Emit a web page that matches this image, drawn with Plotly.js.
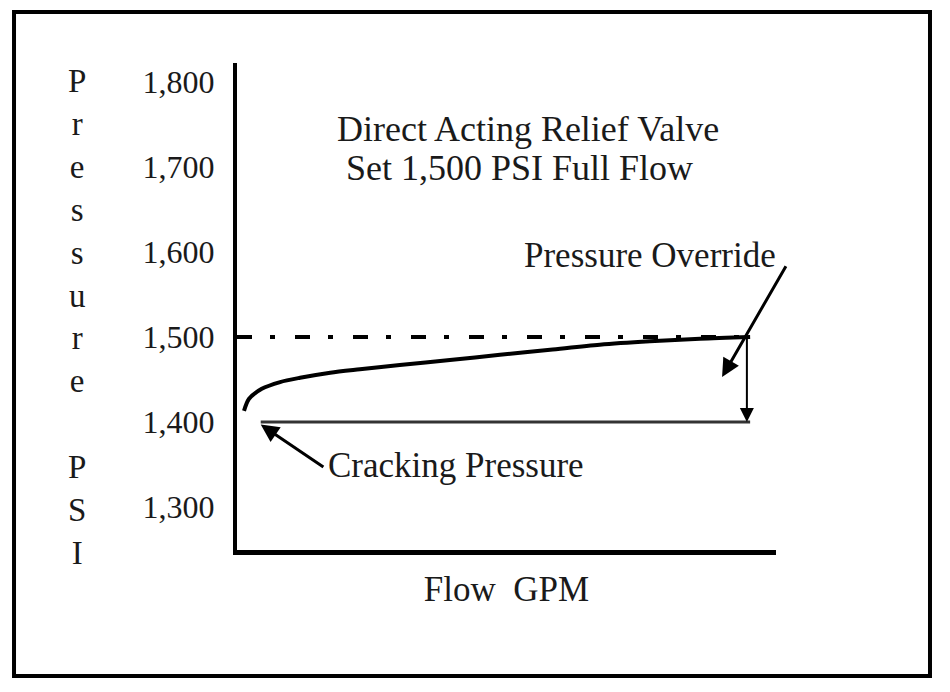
<!DOCTYPE html>
<html>
<head>
<meta charset="utf-8">
<script src="https://cdn.plot.ly/plotly-3.0.1.min.js"></script>
<style>
  body { margin: 0; background: #fff; }
  #plot { width: 950px; height: 692px; }
</style>
</head>
<body>
<div id="plot"></div>
<script>
// pressure tick values (psi)
const pressureTicks = [1300, 1400, 1500, 1600, 1700, 1800];
const pressureTickText = ["1,300", "1,400", "1,500", "1,600", "1,700", "1,800"];

// flow is unitless on the original sketch, 0..100 across the axis
const curveFlow = [1.3, 2.2, 4.6, 8.0, 11.7, 17.3, 22.8, 30.2, 39.5, 48.8, 58.1, 67.3, 76.6, 85.9, 95.2];
const curvePsi = [1413, 1427, 1439, 1447, 1452, 1458, 1462, 1467, 1473, 1479, 1485, 1491, 1495, 1498, 1500];

const setPsi = 1500;
const crackPsi = 1400;
const fullFlow = 95.2;
const crackFlow = 4.4;

const txtFont = { family: "Liberation Serif, Times New Roman, serif", size: 35, color: "#1a1a1a" };

var setLine = {
  x: [0, fullFlow],
  y: [setPsi, setPsi],
  mode: "lines",
  line: { color: "black", width: 4, dash: "15px,18px,5px,20px" },
  hoverinfo: "skip",
};

var curve = {
  x: curveFlow,
  y: curvePsi,
  mode: "lines",
  line: { color: "black", width: 4, shape: "spline", smoothing: 0.8 },
  hoverinfo: "skip",
};

var crackLine = {
  x: [crackFlow, fullFlow],
  y: [crackPsi, crackPsi],
  mode: "lines",
  line: { color: "#333", width: 3 },
  hoverinfo: "skip",
};

var layout = {
  width: 950,
  height: 692,
  showlegend: false,
  paper_bgcolor: "white",
  plot_bgcolor: "white",
  margin: { l: 237, r: 174, t: 63, b: 142 },
  font: txtFont,
  title: {
    text: "Direct Acting Relief Valve",
    font: { size: 36 },
    xref: "paper",
    x: 0.54,
    xanchor: "center",
    yref: "container",
    y: 1 - 128 / 692,
    yanchor: "middle",
  },
  xaxis: {
    range: [0, 100],
    showline: true,
    linewidth: 5,
    linecolor: "black",
    showgrid: false,
    zeroline: false,
    ticks: "",
    showticklabels: false,
    title: { text: "Flow\u00a0\u00a0GPM", font: { size: 35 }, standoff: 24 },
  },
  yaxis: {
    range: [1249.4, 1822.4],
    showline: true,
    linewidth: 4,
    linecolor: "black",
    showgrid: false,
    zeroline: false,
    ticks: "",
    tickvals: pressureTicks,
    ticktext: pressureTickText,
    tickfont: { size: 32, color: "#1a1a1a" },
    ticklabelstandoff: 12,
  },
  shapes: [
    {
      type: "rect", xref: "paper", yref: "paper",
      x0: -0.4137, x1: 1.2857, y0: -0.2587, y1: 1.1047,
      line: { color: "black", width: 4 },
    },
  ],
  annotations: [
    {
      text: "Set 1,500 PSI Full Flow",
      xref: "paper", yref: "paper",
      x: (519 - 237) / 539, y: (550 - 168) / 487,
      xanchor: "center", yanchor: "middle",
      showarrow: false, font: { size: 36 },
    },
    {
      text: "P<br>r<br>e<br>s<br>s<br>u<br>r<br>e<br> <br>P<br>S<br>I",
      xref: "paper", yref: "paper",
      x: (77 - 237) / 539, y: (550 - 317) / 487,
      xanchor: "center", yanchor: "middle",
      showarrow: false, font: { size: 33 },
    },
    {
      text: "Pressure Override",
      xref: "x", yref: "y", x: 76.6, y: 1596,
      xanchor: "center", yanchor: "middle",
      showarrow: false, font: { size: 35 },
    },
    {
      text: "Cracking Pressure",
      xref: "x", yref: "y", x: 16.5, y: 1349,
      xanchor: "left", yanchor: "middle",
      showarrow: false, font: { size: 35 },
    },
    // override pointer
    {
      text: "", xref: "x", yref: "y", axref: "x", ayref: "y",
      x: 90.0, y: 1453, ax: 102.0, ay: 1585,
      showarrow: true, arrowhead: 2, arrowsize: 1.2, arrowwidth: 3, arrowcolor: "black",
    },
    // override span at full flow
    {
      text: "", xref: "x", yref: "y", axref: "x", ayref: "y",
      x: fullFlow - 0.6, y: crackPsi, ax: fullFlow - 0.6, ay: setPsi,
      showarrow: true, arrowhead: 2, arrowsize: 1.4, arrowwidth: 2, arrowcolor: "black",
    },
    // cracking pointer
    {
      text: "", xref: "x", yref: "y", axref: "x", ayref: "y",
      x: crackFlow, y: 1397, ax: 16.3, ay: 1346,
      showarrow: true, arrowhead: 2, arrowsize: 1.2, arrowwidth: 3, arrowcolor: "black",
    },
  ],
};

Plotly.newPlot("plot", [setLine, curve, crackLine], layout, { staticPlot: true });
</script>
</body>
</html>
